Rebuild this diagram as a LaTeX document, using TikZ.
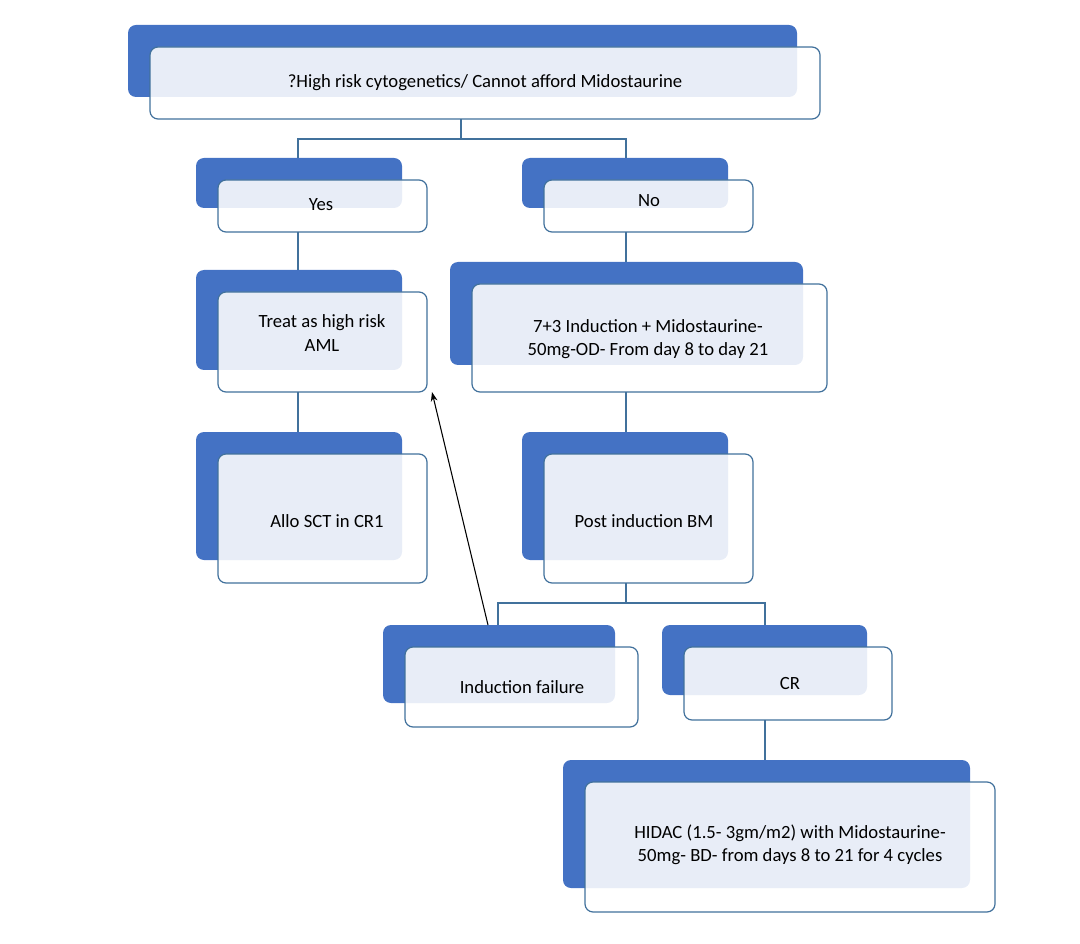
\documentclass[tikz,border=0pt]{standalone}
\usepackage{fontspec}
\setmainfont{Carlito}
\usetikzlibrary{arrows.meta}
\definecolor{backblue}{HTML}{4472C4}
\definecolor{edgeblue}{HTML}{41719C}
\tikzset{
  back/.style={fill=backblue,draw=none,rounded corners=6pt},
  front/.style={fill=white,fill opacity=0.88,draw=edgeblue,line width=0.9pt,rounded corners=6pt},
  lbl/.style={font=\fontsize{14}{17.5}\selectfont,align=center,text=black},
  conn/.style={draw=edgeblue,line width=0.9pt},
}
\newcommand{\card}[9]{% name, bx1,by1,bx2,by2, fx1,fy1,fx2,fy2
  \fill[back] (#2,#3) rectangle (#4,#5);
  \draw[front] (#6,#7) rectangle (#8,#9);
  \coordinate (#1-top) at ({(#2+#4)/2},#3);
  \coordinate (#1-ftop) at ({(#6+#8)/2},#7);
  \coordinate (#1-bot) at ({(#6+#8)/2},#9);
}
\begin{document}
\begin{tikzpicture}[x=0.75pt,y=-0.75pt]
\useasboundingbox (0,0) rectangle (1080,944);
\card{top}{128}{25}{797}{97}{150}{47}{820}{119}
\node[lbl] (ttop) at (485,83) {?High risk cytogenetics/ Cannot afford Midostaurine};
\card{yes}{196}{158}{402}{208}{218}{180}{427}{232}
\node[lbl] (tyes) at (321,205) {Yes};
\card{no}{522}{158}{728}{208}{544}{180}{753}{232}
\node[lbl] (tno) at (649,201) {No};
\card{treat}{196}{270}{402}{370}{218}{292}{427}{392}
\node[lbl] (ttreat) at (322,333) {Treat as high risk\\AML};
\card{allo}{196}{432}{402}{560}{218}{454}{427}{583}
\node[lbl] (tallo) at (327,521) {Allo SCT in CR1};
\card{ind}{450}{262}{803}{365}{472}{284}{827}{392}
\node[lbl] (tind) at (648,339) {7+3 Induction + Midostaurine-\\50mg-OD- From day 8 to day 21};
\card{post}{522}{432}{728}{560}{544}{454}{753}{583}
\node[lbl] (tpost) at (644,521) {Post induction BM};
\card{fail}{383}{625}{615}{703}{405}{647}{638}{727}
\node[lbl] (tfail) at (522,687) {Induction failure};
\card{cr}{662}{625}{867}{695}{684}{647}{892}{720}
\node[lbl] (tcr) at (790,684) {CR};
\card{hidac}{563}{760}{970}{888}{585}{782}{995}{912}
\node[lbl] (thidac) at (790,845) {HIDAC (1.5- 3gm/m2) with Midostaurine-\\50mg- BD- from days 8 to 21 for 4 cycles};
% connectors
\draw[conn] (461,119) -- (461,139);
\draw[conn] (298,158) -- (298,139) -- (626,139) -- (626,158);
\draw[conn] (298,232) -- (298,270);
\draw[conn] (298,392) -- (298,432);
\draw[conn] (626,232) -- (626,262);
\draw[conn] (626,392) -- (626,432);
\draw[conn] (626,583) -- (626,603);
\draw[conn] (498,625) -- (498,603) -- (765,603) -- (765,625);
\draw[conn] (765,720) -- (765,760);
\coordinate (afrom) at (488,625);
\coordinate (ato) at (432,392);
\draw[-{Stealth[length=7pt,width=5pt]},line width=0.8pt,black] (afrom) -- (ato);
\end{tikzpicture}
\end{document}
